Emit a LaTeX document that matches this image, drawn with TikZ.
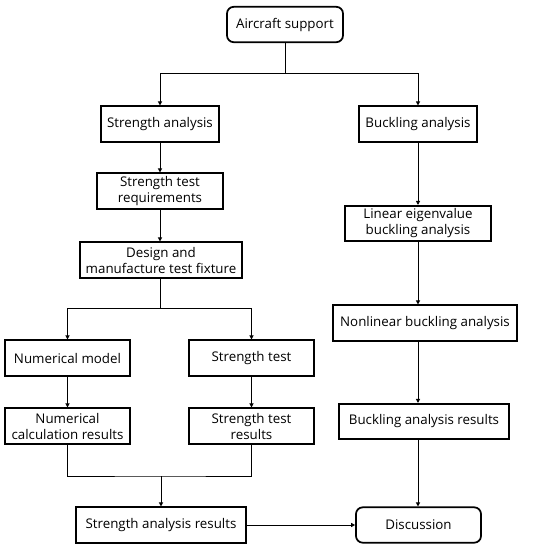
\documentclass[tikz,border=0pt]{standalone}
\usepackage{fontspec}
\setmainfont{Open Sans}
\usetikzlibrary{arrows.meta}

\begin{document}
\begin{tikzpicture}[x=0.75pt,y=0.75pt,yscale=-1,xscale=1,
  box/.style={draw, line width=1.3pt, minimum height=26.5pt, align=center, inner sep=1pt, font=\fontsize{10}{12}\selectfont},
  rbox/.style={box, rounded corners=5pt},
  flow/.style={line width=0.75pt, -{Triangle[length=3pt,width=3pt]}}]
\useasboundingbox (0,0) rectangle (542,550);

%Shape: Rounded Rect [id:air]
\node [rbox, minimum width=87pt] (air) at (285,24.5) {Aircraft support};
%Shape: Rectangle [id:sa]
\node [box, minimum width=88.5pt] (sa) at (160,124) {Strength analysis};
%Shape: Rectangle [id:ba]
\node [box, minimum width=88.5pt] (ba) at (418,124) {Buckling analysis};
%Shape: Rectangle [id:req]
\node [box, minimum width=94.5pt] (req) at (160,191) {Strength test\\requirements};
%Shape: Rectangle [id:lin]
\node [box, minimum width=109.5pt] (lin) at (418,223.5) {Linear eigenvalue\\buckling analysis};
%Shape: Rectangle [id:fix]
\node [box, minimum width=121.5pt] (fix) at (161,260) {Design and\\manufacture test fixture};
%Shape: Rectangle [id:nm]
\node [box, minimum width=93.75pt] (nm) at (67.5,358) {Numerical model};
%Shape: Rectangle [id:st]
\node [box, minimum width=93.75pt] (st) at (251.5,358) {Strength test};
%Shape: Rectangle [id:nonlin]
\node [box, minimum width=138pt] (nonlin) at (425,323) {Nonlinear buckling analysis};
%Shape: Rectangle [id:ncr]
\node [box, minimum width=93.75pt] (ncr) at (67.5,426) {Numerical\\calculation results};
%Shape: Rectangle [id:str]
\node [box, minimum width=93.75pt] (str) at (251.5,426) {Strength test\\results};
%Shape: Rectangle [id:bres]
\node [box, minimum width=127.5pt] (bres) at (424,421.5) {Buckling analysis results};
%Shape: Rectangle [id:sar]
\node [box, minimum width=127.5pt] (sar) at (161,525) {Strength analysis results};
%Shape: Rounded Rect [id:disc]
\node [rbox, minimum width=93.75pt] (disc) at (418.5,525) {Discussion};

%Branch points
\coordinate (split1) at (285,73);
\coordinate (split2) at (160,308);
\coordinate (merge) at (161,476);

%Straight Lines
\draw [line width=0.75pt] (air.south) -- (split1);
\draw [flow] (split1) -| (sa.north);
\draw [flow] (split1) -| (ba.north);
\draw [flow] (sa.south) -- (req.north);
\draw [flow] (req.south) -- (req.south |- fix.north);
\draw [line width=0.75pt] (fix.south -| split2) -- (split2);
\draw [flow] (split2) -| (nm.north);
\draw [flow] (split2) -| (st.north);
\draw [flow] (nm.south) -- (ncr.north);
\draw [flow] (st.south) -- (str.north);
\draw [line width=0.75pt] (ncr.south) |- (merge) -| (str.south);
\draw [flow] (merge) -- (sar.north -| merge);
\draw [flow] (sar.east) -- (disc.west);
%Right column
\draw [flow] (ba.south) -- (lin.north);
\draw [flow] (lin.south) -- (lin.south |- nonlin.north);
\draw [flow] (lin.south |- nonlin.south) -- (lin.south |- bres.north);
\draw [flow] (lin.south |- bres.south) -- (lin.south |- disc.north);

\end{tikzpicture}
\end{document}
